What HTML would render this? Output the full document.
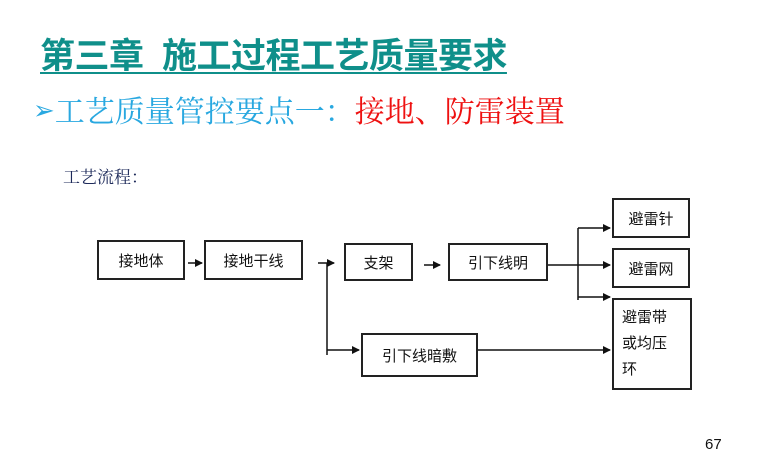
<!DOCTYPE html>
<html><head><meta charset="utf-8"><style>
body{margin:0;width:760px;height:469px;background:#fff;position:relative;overflow:hidden}
.t{position:absolute;white-space:nowrap}
.b{position:absolute;border:2px solid #222;box-sizing:border-box;font-family:"Liberation Sans","Noto Sans CJK SC",sans-serif;font-size:15px;color:#111;display:flex;align-items:center;justify-content:center}
</style></head><body>
<div class="t" style="left:40px;top:28px;font:bold 35px 'Liberation Sans','Noto Sans CJK SC',sans-serif;letter-spacing:-0.5px;color:#0f8f8a;text-decoration:underline;text-decoration-thickness:2px;text-underline-offset:4px">第三章&nbsp;&nbsp;施工过程工艺质量要求</div>
<div class="t" style="left:33px;top:87px;font:30px 'Liberation Serif','Noto Serif CJK SC',serif;color:#29a8e0"><span style="font-size:26px;position:relative;top:-3px">➢</span>工艺质量管控要点一：<span style="color:#ee1111">接地、防雷装置</span></div>
<div class="t" style="left:63px;top:163px;font:17px 'Liberation Serif','Noto Serif CJK SC',serif;color:#1d2a5a">工艺流程：</div>
<div class="b" style="left:97px;top:240px;width:88px;height:40px">接地体</div>
<div class="b" style="left:204px;top:240px;width:99px;height:40px">接地干线</div>
<div class="b" style="left:344px;top:243px;width:69px;height:38px">支架</div>
<div class="b" style="left:448px;top:243px;width:100px;height:38px">引下线明</div>
<div class="b" style="left:361px;top:333px;width:117px;height:44px">引下线暗敷</div>
<div class="b" style="left:612px;top:198px;width:78px;height:40px">避雷针</div>
<div class="b" style="left:612px;top:248px;width:78px;height:40px">避雷网</div>
<div class="b" style="left:612px;top:298px;width:80px;height:92px;line-height:26px;justify-content:flex-start;padding-left:8px">避雷带<br>或均压<br>环</div>
<svg width="760" height="469" style="position:absolute;left:0;top:0">
<defs><marker id="a" markerWidth="8" markerHeight="8" refX="7" refY="4" orient="auto" markerUnits="userSpaceOnUse"><path d="M0,0L8,4L0,8z" fill="#111"/></marker></defs>
<g stroke="#111" stroke-width="1.5" fill="none">
<line x1="188" y1="263" x2="202" y2="263" marker-end="url(#a)"/>
<line x1="318" y1="263" x2="334" y2="263" marker-end="url(#a)"/>
<line x1="327" y1="263" x2="327" y2="355"/>
<line x1="327" y1="350" x2="359" y2="350" marker-end="url(#a)"/>
<line x1="424" y1="265" x2="440" y2="265" marker-end="url(#a)"/>
<line x1="548" y1="265" x2="610" y2="265" marker-end="url(#a)"/>
<line x1="578" y1="228" x2="578" y2="300"/>
<line x1="578" y1="228" x2="610" y2="228" marker-end="url(#a)"/>
<line x1="578" y1="297" x2="610" y2="297" marker-end="url(#a)"/>
<line x1="478" y1="350" x2="610" y2="350" marker-end="url(#a)"/>
</g></svg>
<div class="t" style="left:705px;top:436px;font:15px 'Liberation Sans',sans-serif;color:#111">67</div>
</body></html>
